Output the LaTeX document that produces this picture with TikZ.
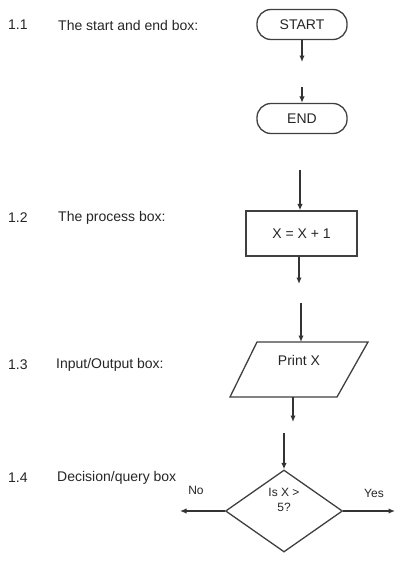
\documentclass[tikz,border=0pt]{standalone}
\usepackage{fontspec}
\setmainfont{Liberation Sans}
\usetikzlibrary{arrows.meta,shapes.geometric}
\begin{document}
\begin{tikzpicture}[x=1pt,y=-1pt,
  every node/.style={inner sep=0pt,text=black!85,font=\fontsize{14}{16}\selectfont},
  small/.style={font=\fontsize{12}{14}\selectfont},
  shp/.style={draw=black!75,line width=1.3pt},
  arr/.style={draw=black!80,line width=1.3pt,-{Latex[length=6.5pt,width=5.5pt]}},
  term/.style={shp,rectangle,rounded corners=14pt,minimum width=90pt,minimum height=30pt},
  proc/.style={shp,rectangle,minimum width=111pt,minimum height=45pt},
  lbl/.style={anchor=west}]
\useasboundingbox (0,0) rectangle (400,562);
\fill[white] (0,0) rectangle (400,562);
% labels
\node[lbl] (n11) at (8,25) {1.1};
\node[lbl] (t11) at (58,25) {The start and end box:};
\node[lbl] (n12) at (8,218) {1.2};
\node[lbl] (t12) at (58,218) {The process box:};
\node[lbl] (n13) at (8,365) {1.3};
\node[lbl] (t13) at (56,365) {Input/Output box:};
\node[lbl] (n14) at (8,478) {1.4};
\node[lbl] (t14) at (57,478) {Decision/query box};
% 1.1
\node[term] (start) at (302,24.5) {START};
\coordinate (startout) at (302,62);
\draw[arr] (start) -- (startout);
\node[term] (end) at (302,118.5) {END};
\coordinate (endin) at (302,87);
\draw[arr] (endin) -- (end);
% 1.2
\node[proc] (proc) at (301.5,233.5) {X = X + 1};
\coordinate (procin) at (300,170);
\coordinate (procout) at (299,284);
\draw[arr] (procin) -- (proc.north -| procin);
\draw[arr] (proc.south -| procout) -- (procout);
% 1.3
\draw[shp] (257,342) coordinate (ioa) -- (368,342) -- (337,397) -- (230,397) -- cycle;
\node (io) at (299,360) {Print X};
\coordinate (ioin) at (301,303);
\coordinate (iotop) at (301,342);
\draw[arr] (ioin) -- (iotop);
\coordinate (iobot) at (293,397);
\coordinate (ioout) at (293,422);
\draw[arr] (iobot) -- (ioout);
% 1.4
\node[shp,diamond,minimum width=117pt,minimum height=82pt] (dec) at (284,511) {};
\node[small,align=center] (dectext) at (284,500) {Is X >\\[1pt]5?};
\coordinate (decin) at (284,433);
\draw[arr] (decin) -- (dec.north);
\coordinate (noend) at (180,511);
\coordinate (yesend) at (395,511);
\draw[arr] (dec.west) -- (noend);
\draw[arr] (dec.east) -- (yesend);
\node[small] (no) at (196,490) {No};
\node[small] (yes) at (374,493) {Yes};
\end{tikzpicture}
\end{document}
